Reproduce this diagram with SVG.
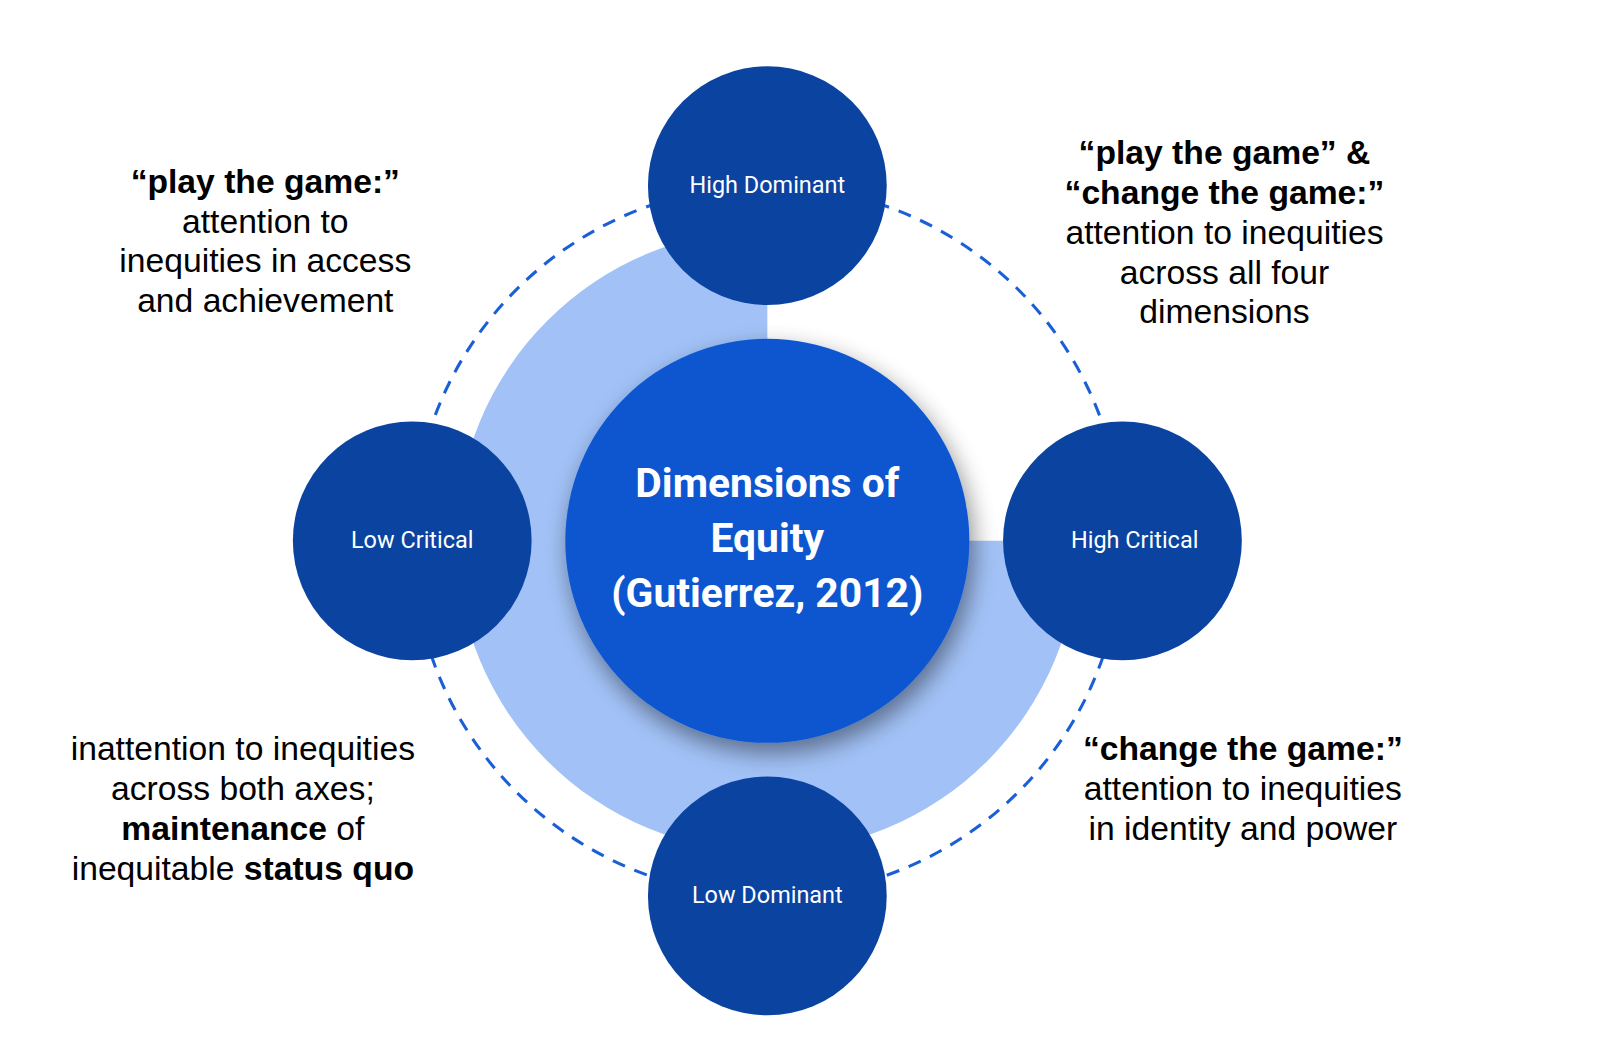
<svg xmlns="http://www.w3.org/2000/svg" width="1600" height="1050" viewBox="0 0 1600 1050">
<defs>
<filter id="sh" x="-30%" y="-30%" width="160%" height="160%"><feGaussianBlur in="SourceAlpha" stdDeviation="12"/><feOffset dx="4" dy="10"/><feComponentTransfer><feFuncA type="linear" slope="0.45"/></feComponentTransfer><feMerge><feMergeNode/><feMergeNode in="SourceGraphic"/></feMerge></filter>
<style>
.sm{fill:#0a43a0}
.nl{font-family:Roboto,"Liberation Sans",sans-serif;font-size:23px;fill:#fff;text-anchor:middle}
.an{font-family:"Liberation Sans",Arial,sans-serif;font-size:33px;fill:#000;text-anchor:middle}
.b{font-weight:bold}
</style>
</defs>
<rect width="1600" height="1050" fill="#fff"/>
<g transform="scale(1.0204)">
<path d="M752,530 L752,225 A305,305 0 1 0 1057,530 Z" fill="#a2c2f7"/>
<g id="connectors"><circle cx="752" cy="530" r="348" fill="none" stroke="#1a5fd6" stroke-width="3" stroke-dasharray="13,10"/></g>
<g id="center"><circle cx="752" cy="530" r="198" fill="#0b57d0" filter="url(#sh)"/>
<text class="nl" style="font-size:40px;font-weight:bold"><tspan x="752" y="487">Dimensions of</tspan><tspan x="752" y="541">Equity</tspan><tspan x="752" y="595">(Gutierrez, 2012)</tspan></text></g>
<g id="hd"><circle class="sm" cx="752" cy="182" r="117"/><text class="nl" x="752" y="189">High Dominant</text></g>
<g id="lc"><circle class="sm" cx="404" cy="530" r="117"/><text class="nl" x="404" y="537">Low Critical</text></g>
<g id="hc"><circle class="sm" cx="1100" cy="530" r="117"/><text class="nl" x="1112" y="537">High Critical</text></g>
<g id="ld"><circle class="sm" cx="752" cy="878" r="117"/><text class="nl" x="752" y="885">Low Dominant</text></g>
<g id="tl"><text class="an"><tspan x="260" y="189" class="b">“play the game:”</tspan><tspan x="260" y="228">attention to</tspan><tspan x="260" y="267">inequities in access</tspan><tspan x="260" y="306">and achievement</tspan></text></g>
<g id="tr"><text class="an"><tspan x="1200" y="161" class="b">“play the game” &amp;</tspan><tspan x="1200" y="200" class="b">“change the game:”</tspan><tspan x="1200" y="239">attention to inequities</tspan><tspan x="1200" y="278">across all four</tspan><tspan x="1200" y="317">dimensions</tspan></text></g>
<g id="bl"><text class="an"><tspan x="238" y="745">inattention to inequities</tspan><tspan x="238" y="784">across both axes;</tspan><tspan x="238" y="823"><tspan class="b">maintenance</tspan> of</tspan><tspan x="238" y="862">inequitable <tspan class="b">status quo</tspan></tspan></text></g>
<g id="br"><text class="an"><tspan x="1218" y="745" class="b">“change the game:”</tspan><tspan x="1218" y="784">attention to inequities</tspan><tspan x="1218" y="823">in identity and power</tspan></text></g>
</g>
</svg>
